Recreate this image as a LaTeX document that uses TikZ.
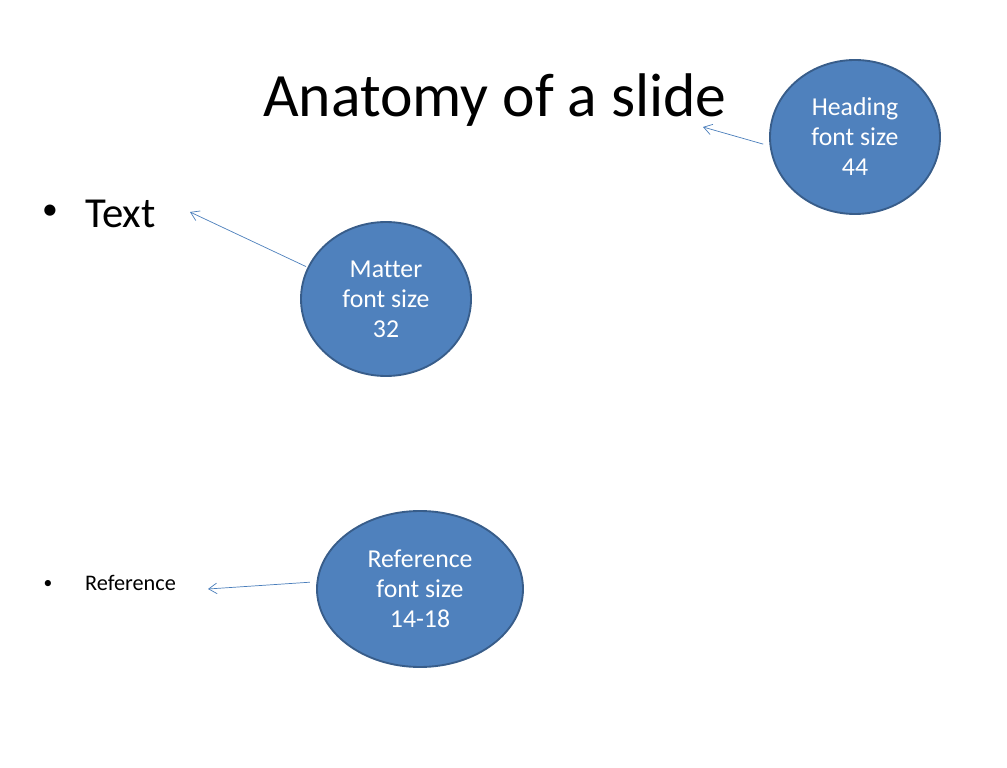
\documentclass[tikz,border=0pt]{standalone}
\usepackage{fontspec}
\setmainfont{Carlito}[Ligatures=NoCommon]
\usetikzlibrary{shapes.geometric, arrows.meta}
\definecolor{balloon}{HTML}{4F81BD}
\definecolor{balloonrim}{HTML}{385D8A}
\definecolor{pointer}{HTML}{4A7EBB}
\begin{document}
\begin{tikzpicture}[x=0.03cm, y=-0.03cm,
  bubble/.style={ellipse, draw=balloonrim, line width=1.6pt, fill=balloon,
                 text=white, align=center, inner sep=0pt,
                 font=\fontsize{22}{25.6}\selectfont},
  arr/.style={-{Straight Barb[length=7pt, width=9pt]}, pointer,
              line width=0.6pt, shorten <=0.2cm},
]
\useasboundingbox (0,0) rectangle (1007,768);

% ---- slide content ----------------------------------------------------------
\node[anchor=base, font=\fontsize{52.6}{60}\selectfont] (title) at (495,117)
  {Anatomy of a slide};

\node[font=\fontsize{27}{30}\selectfont] (bul1) at (50,212) {\textbullet};
\node[anchor=base west, inner sep=0pt, font=\fontsize{36.5}{40}\selectfont]
  (matter) at (85,228) {Text};

\node[font=\fontsize{15}{18}\selectfont] (bul2) at (48,584) {\textbullet};
\node[anchor=base west, inner sep=0pt, font=\fontsize{19}{22}\selectfont]
  (refer) at (85,590) {Reference};

% ---- callouts ---------------------------------------------------------------
\node[bubble, minimum width=5.1cm, minimum height=4.62cm] (heading) at (855,137)
  {Heading\\font size\\44};
\node[bubble, minimum width=5.1cm, minimum height=4.62cm] (mattersz) at (386,299)
  {Matter\\font size\\32};
\node[bubble, minimum width=6.18cm, minimum height=4.68cm] (refsz) at (420,589)
  {Reference\\font size\\14-18};

\coordinate (headtip) at (703,127);
\coordinate (mattip) at (190,212);
\coordinate (reftip) at (208,589);

\draw[arr] (heading.186) -- (headtip);
\draw[arr, shorten <=0.05cm] (mattersz.158) -- (mattip);
\draw[arr] (refsz.176) -- (reftip);

\end{tikzpicture}
\end{document}
